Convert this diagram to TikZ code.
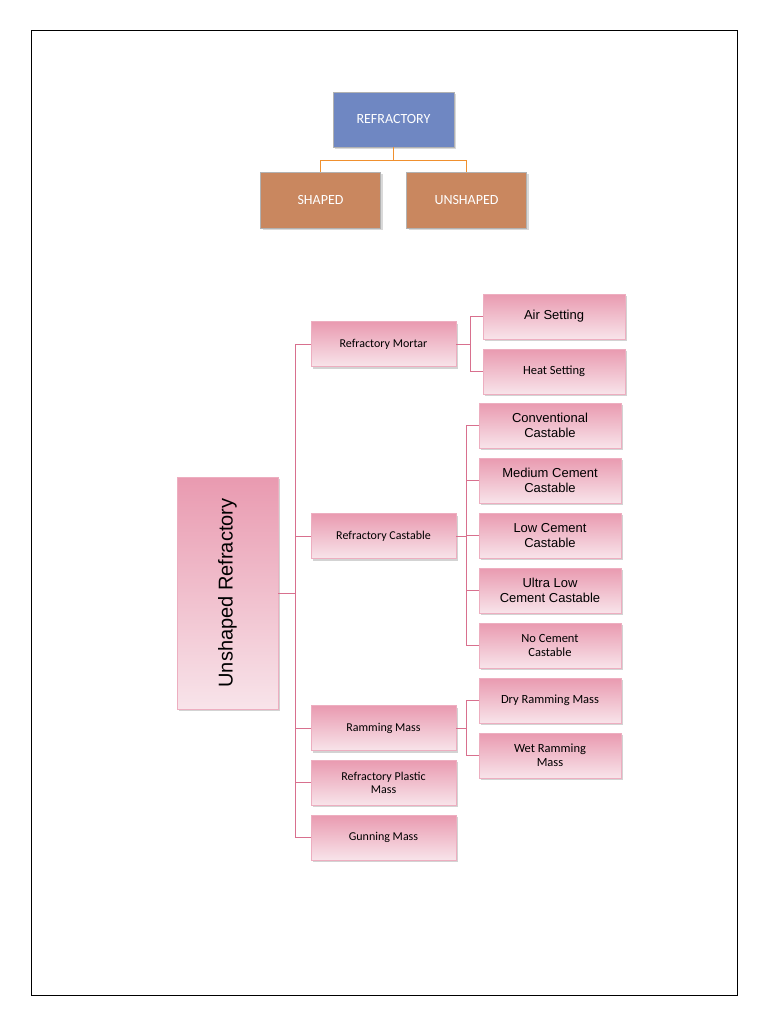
\documentclass[tikz,border=0pt]{standalone}
\usepackage{fontspec}
\setmainfont{Carlito}
\newfontfamily\arialf{Liberation Sans}
\usetikzlibrary{shadows}
\definecolor{pk}{HTML}{E99AB0}
\definecolor{pkl}{HTML}{F8E4EA}
\definecolor{pkline}{HTML}{D8708E}
\definecolor{bl}{HTML}{6F87C2}
\definecolor{br}{HTML}{C9875F}
\definecolor{or}{HTML}{F0902E}
\begin{document}
\begin{tikzpicture}[x=1pt,y=-1pt,
 pbox/.style={draw=pk!80!white,top color=pk,bottom color=pkl,drop shadow={opacity=0.35,shadow xshift=2pt,shadow yshift=-2pt},align=center,inner sep=1pt,font=\fontsize{12}{13}\selectfont},
 lvtwo/.style={pbox,minimum width=145pt,minimum height=45pt},
 lvthree/.style={pbox,minimum width=142pt,minimum height=45pt,font=\arialf\fontsize{13}{15}\selectfont},
 lvthreec/.style={lvthree,font=\fontsize{12.5}{14}\selectfont},
 topb/.style={draw=gray!60,minimum width=120pt,minimum height=56pt,text=white,font=\fontsize{14}{16}\selectfont,drop shadow={opacity=0.3,shadow xshift=2pt,shadow yshift=-2pt}},
 pl/.style={draw=pkline,line width=0.8pt},
 ol/.style={draw=or,line width=0.8pt}]
\useasboundingbox (0,0) rectangle (768,1024);
\draw[black,line width=0.6pt] (31,30) rectangle (737,995);
% top
\node[topb,fill=bl,minimum width=121pt,minimum height=55pt] (ref) at (393.5,119.5) {REFRACTORY};
\node[topb,fill=br] (sh) at (320.5,200) {SHAPED};
\node[topb,fill=br] (un) at (466.5,200) {UNSHAPED};
\coordinate (j) at (393.5,160);
\draw[ol] (ref.south) -- (j) -| (sh.north);
\draw[ol] (j) -| (un.north);
% tree
\node[pbox,minimum width=101pt,minimum height=232pt] (ur) at (227.5,593) {};
\node[rotate=90,font=\arialf\fontsize{20}{22}\selectfont] at (ur.center) {Unshaped Refractory};
\node[lvtwo] (m) at (383.5,344) {Refractory Mortar};
\node[lvtwo] (c) at (383.5,536) {Refractory Castable};
\node[lvtwo] (r) at (383.5,728) {Ramming Mass};
\node[lvtwo] (p) at (383.5,782.5) {Refractory Plastic\\Mass};
\node[lvtwo] (g) at (383.5,837.5) {Gunning Mass};
\node[lvthree] (a) at (554,316.5) {Air Setting};
\node[lvthreec] (h) at (554,371.5) {Heat Setting};
\node[lvthree] (c1) at (550,425.5) {Conventional\\Castable};
\node[lvthree] (c2) at (550,480.5) {Medium Cement\\Castable};
\node[lvthree] (c3) at (550,535.5) {Low Cement\\Castable};
\node[lvthree] (c4) at (550,590.5) {Ultra Low\\Cement Castable};
\node[lvthreec] (c5) at (550,645.5) {No Cement\\Castable};
\node[lvthreec] (d) at (550,700.5) {Dry Ramming Mass};
\node[lvthreec] (w) at (550,755.5) {Wet Ramming\\Mass};
\coordinate (t) at (295,593);
\draw[pl] (ur.east) -- (t);
\draw[pl] (t) |- (m.west);
\draw[pl] (t) |- (g.west);
\draw[pl] (t) |- (c.west);
\draw[pl] (t) |- (r.west);
\draw[pl] (t) |- (p.west);
\coordinate (tm) at (470,344);
\draw[pl] (m.east) -- (tm) |- (a.west);
\draw[pl] (tm) |- (h.west);
\coordinate (tc) at (466,536);
\draw[pl] (c.east) -- (tc);
\foreach \n in {c1,c2,c3,c4,c5} \draw[pl] (tc) |- (\n.west);
\coordinate (tr) at (466,728);
\draw[pl] (r.east) -- (tr) |- (d.west);
\draw[pl] (tr) |- (w.west);
\end{tikzpicture}
\end{document}
